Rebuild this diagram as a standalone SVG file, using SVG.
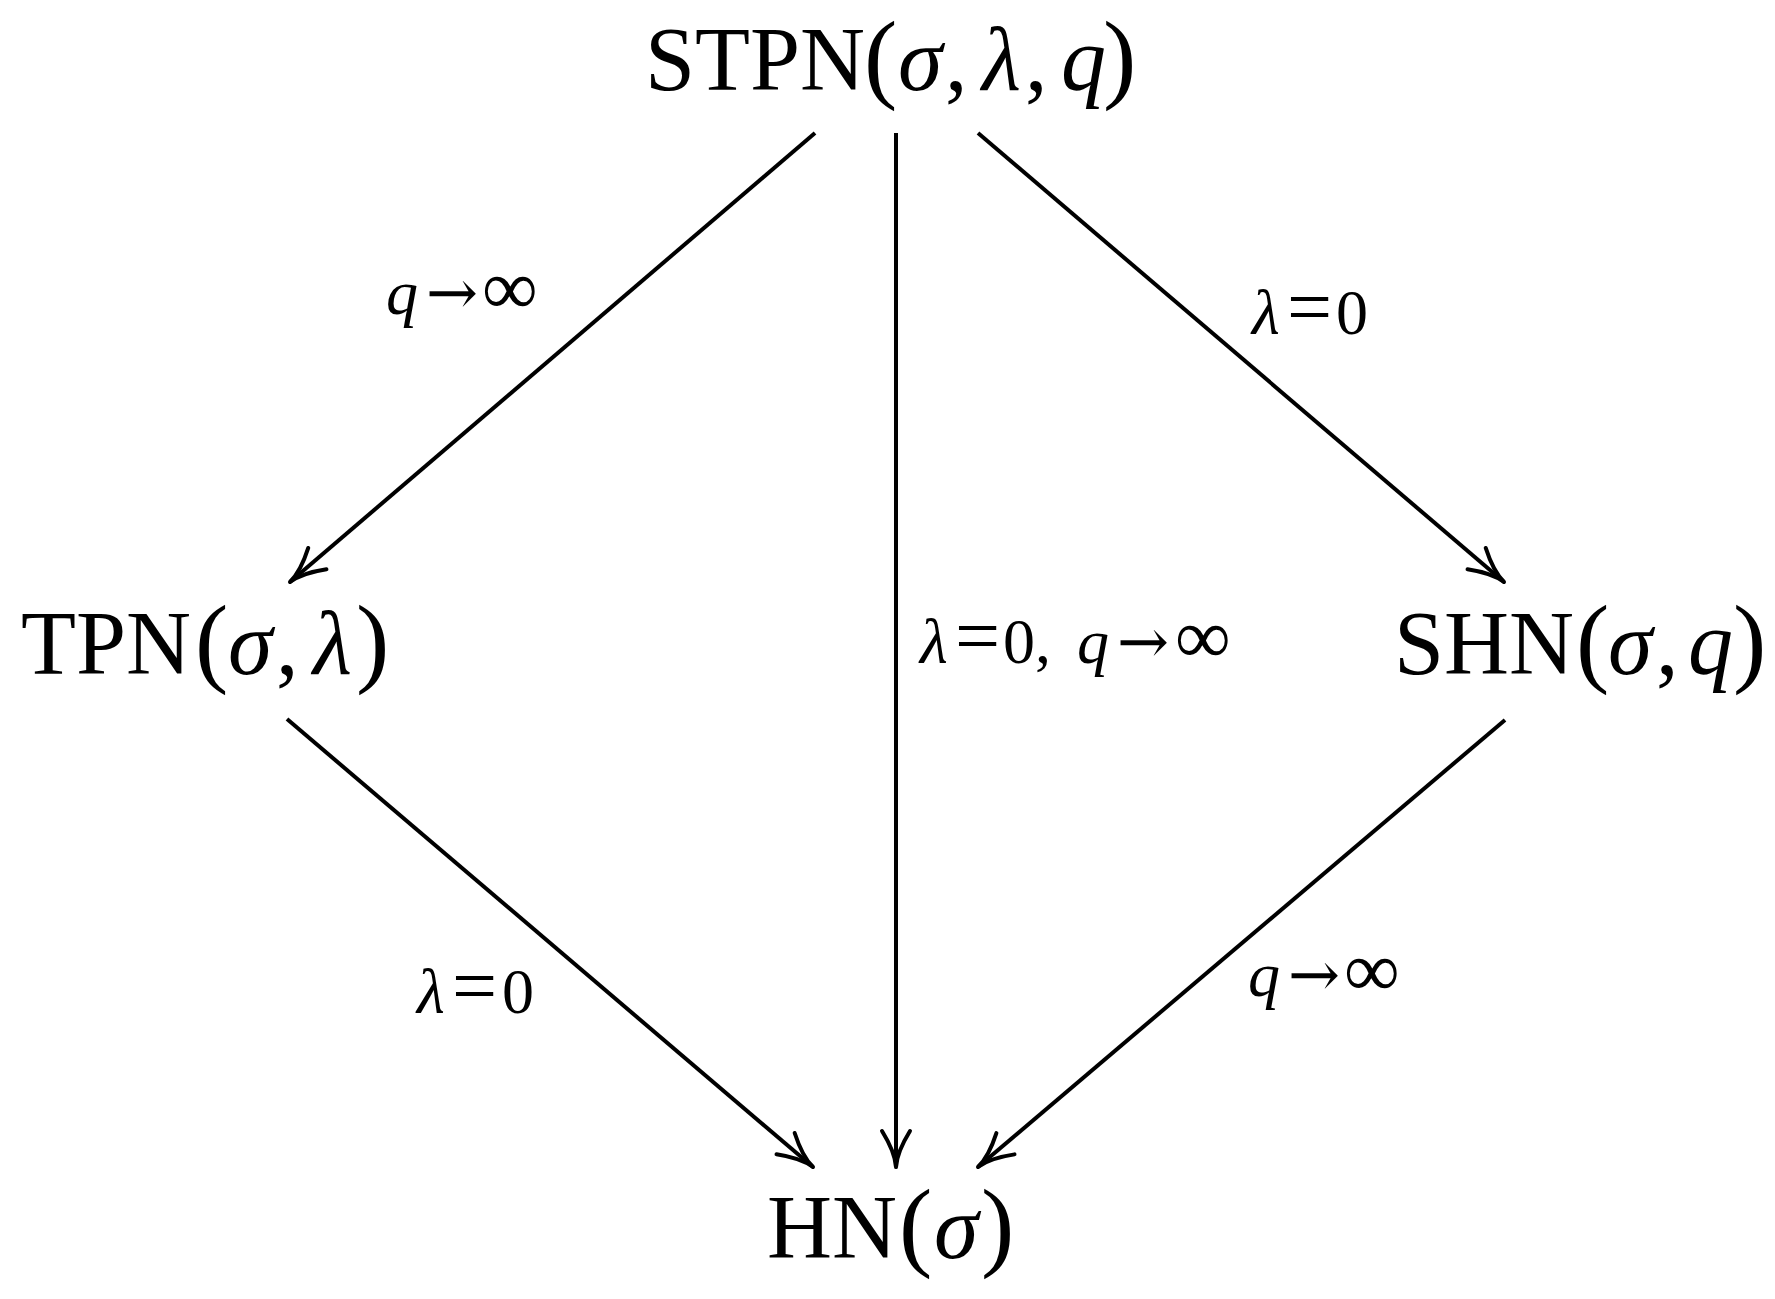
<svg xmlns="http://www.w3.org/2000/svg" width="1775" height="1299" viewBox="0 0 1775 1299">
<defs>
<style>
.node{font-family:"Liberation Serif","DejaVu Serif",serif;font-size:90px;fill:#000}
.lbl{font-family:"Liberation Serif","DejaVu Serif",serif;font-size:64px;fill:#000}
.it{font-style:italic}
.par{font-size:100px}
.rel{font-size:80px}
.arw{font-family:"DejaVu Serif",serif;font-size:62px}
.inf{font-size:78px}
.edge{stroke:#000;stroke-width:4;fill:none;marker-end:url(#to)}
</style>
<marker id="to" markerUnits="userSpaceOnUse" orient="auto" overflow="visible" refX="0" refY="0" markerWidth="1" markerHeight="1">
<path d="M-36,-14 Q-15,-1 0,0 M-36,14 Q-15,1 0,0" fill="none" stroke="#000" stroke-width="4" stroke-linecap="round"/>
</marker>
</defs>
<rect width="1775" height="1299" fill="#fff"/>
<g id="connectors">
<line id="e-stpn-tpn" class="edge" x1="815" y1="133" x2="290" y2="582"/>
<line id="e-stpn-shn" class="edge" x1="978" y1="133" x2="1504" y2="582"/>
<line id="e-stpn-hn" class="edge" x1="896" y1="133" x2="896" y2="1167"/>
<line id="e-tpn-hn" class="edge" x1="287" y1="719" x2="813" y2="1167"/>
<line id="e-shn-hn" class="edge" x1="1505" y1="720" x2="978" y2="1167"/>
</g>
<g id="edge-labels">
<text class="lbl" y="314"><tspan class="it" x="386">q</tspan><tspan class="arw" x="426">→</tspan><tspan class="inf" x="482">∞</tspan></text>
<text class="lbl" y="334"><tspan class="it" x="1252">λ</tspan><tspan class="rel" x="1287">=</tspan><tspan x="1336">0</tspan></text>
<text class="lbl" y="663"><tspan class="it" x="920">λ</tspan><tspan class="rel" x="955">=</tspan><tspan x="1003">0</tspan><tspan x="1035">,</tspan><tspan class="it" x="1077">q</tspan><tspan class="arw" x="1117">→</tspan><tspan class="inf" x="1175">∞</tspan></text>
<text class="lbl" y="1013"><tspan class="it" x="417">λ</tspan><tspan class="rel" x="452">=</tspan><tspan x="502">0</tspan></text>
<text class="lbl" y="996"><tspan class="it" x="1248">q</tspan><tspan class="arw" x="1288">→</tspan><tspan class="inf" x="1344">∞</tspan></text>
</g>
<g id="node-stpn">
<text class="node" y="90"><tspan x="645">STPN</tspan><tspan class="par" x="864">(</tspan><tspan class="it" x="898">σ</tspan><tspan x="945">,</tspan><tspan class="it" x="982">λ</tspan><tspan x="1025">,</tspan><tspan class="it" x="1061">q</tspan><tspan class="par" x="1103">)</tspan></text>
</g>
<g id="node-tpn">
<text class="node" y="674"><tspan x="21">TPN</tspan><tspan class="par" x="195">(</tspan><tspan class="it" x="228">σ</tspan><tspan x="276">,</tspan><tspan class="it" x="313">λ</tspan><tspan class="par" x="356">)</tspan></text>
</g>
<g id="node-shn">
<text class="node" y="674"><tspan x="1394">SHN</tspan><tspan class="par" x="1576">(</tspan><tspan class="it" x="1608">σ</tspan><tspan x="1656">,</tspan><tspan class="it" x="1688">q</tspan><tspan class="par" x="1733">)</tspan></text>
</g>
<g id="node-hn">
<text class="node" y="1258"><tspan x="767">HN</tspan><tspan class="par" x="899">(</tspan><tspan class="it" x="934">σ</tspan><tspan class="par" x="981">)</tspan></text>
</g>
</svg>
